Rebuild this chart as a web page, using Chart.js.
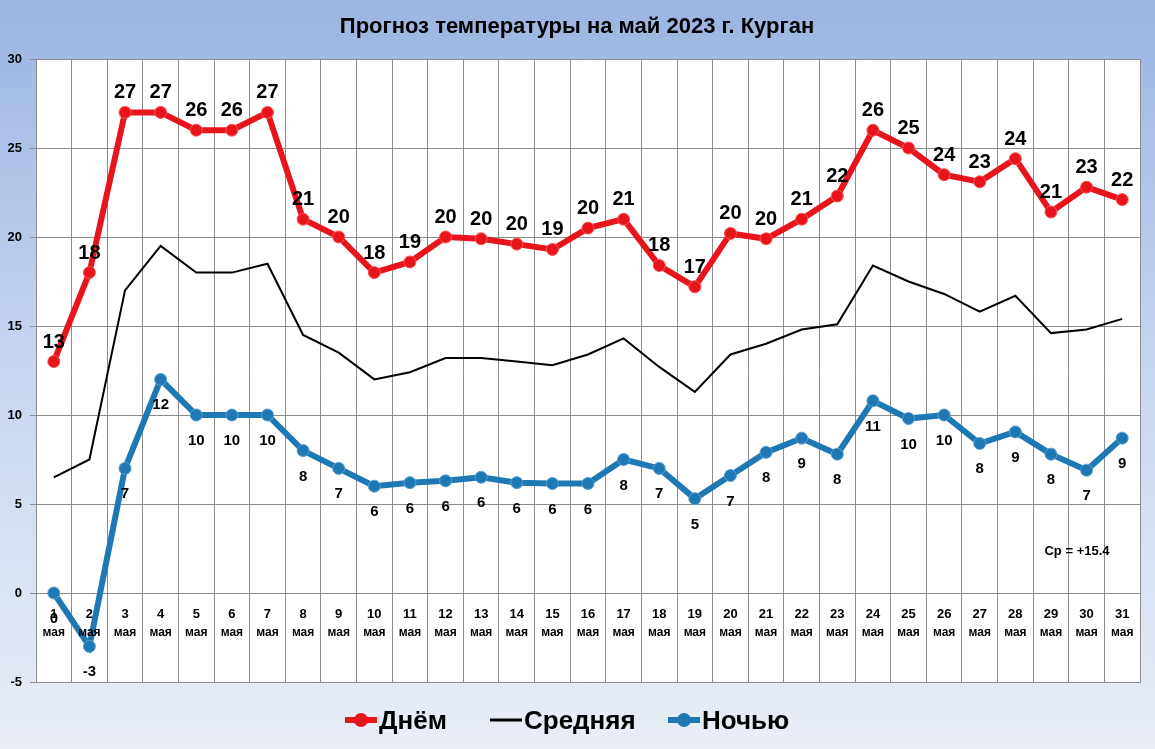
<!DOCTYPE html>
<html><head><meta charset="utf-8">
<script src="https://cdn.jsdelivr.net/npm/chart.js@4"></script>
<style>html,body{margin:0;padding:0;}body{width:1155px;height:749px;background:linear-gradient(#9bb5e1 0%,#c4d3ee 45%,#e9eef7 100%);}</style>
</head><body><canvas id="c" width="1155" height="749"></canvas>
<script>
const days = Array.from({length:31},(_,i)=>String(i+1));
const dayTemps = [13,18,27,27,26,26,27,21,20,18,18.6,20,19.9,19.6,19.3,20.5,21,18.4,17.2,20.2,19.9,21,22.3,26,25,23.5,23.1,24.4,21.4,22.8,22.1];
const dayLabels = [13,18,27,27,26,26,27,21,20,18,19,20,20,20,19,20,21,18,17,20,20,21,22,26,25,24,23,24,21,23,22];
const nightTemps = [0,-3,7,12,10,10,10,8,7,6,6.2,6.3,6.5,6.2,6.15,6.15,7.5,7,5.3,6.6,7.9,8.7,7.8,10.8,9.8,10,8.4,9.05,7.8,6.9,8.7];
const nightLabels = [0,-3,7,12,10,10,10,8,7,6,6,6,6,6,6,6,8,7,5,7,8,9,8,11,10,10,8,9,8,7,9];
const meanTemps = [6.5,7.5,17,19.5,18,18,18.5,14.5,13.5,12,12.4,13.2,13.2,13,12.8,13.4,14.3,12.7,11.3,13.4,14,14.8,15.1,18.4,17.5,16.8,15.8,16.7,14.6,14.8,15.4];
const title = 'Прогноз температуры на май 2023 г. Курган';
const note = 'Ср = +15.4';

const deco = {
  id:'deco',
  beforeDraw(ch){
    const {ctx,chartArea:a}=ch;
    ctx.save();ctx.fillStyle='#fff';ctx.fillRect(a.left,a.top,a.right-a.left,a.bottom-a.top);ctx.restore();
  },
  afterDatasetsDraw(ch){
    const {ctx,scales:{x,y}}=ch;
    ctx.save();
    ctx.textAlign='center';ctx.fillStyle='#000';
    ctx.font='bold 22px "Liberation Sans", Arial';
    ctx.fillText(title,577,33);
    // x labels
    const y0=y.getPixelForValue(0);
    days.forEach((d,i)=>{
      const px=x.getPixelForValue(i);
      ctx.font='bold 13px "Liberation Sans", Arial';
      ctx.fillText(d,px,y0+25);
      ctx.font='bold 12px "Liberation Sans", Arial';
      ctx.fillText('мая',px,y0+43);
    });
    // day labels
    ctx.font='bold 20px "Liberation Sans", Arial';
    dayTemps.forEach((v,i)=>{
      ctx.fillText(String(dayLabels[i]),x.getPixelForValue(i),y.getPixelForValue(v)-14);
    });
    ctx.font='bold 15px "Liberation Sans", Arial';
    nightTemps.forEach((v,i)=>{
      ctx.fillText(String(nightLabels[i]),x.getPixelForValue(i),y.getPixelForValue(v)+30);
    });
    ctx.font='bold 13px "Liberation Sans", Arial';
    ctx.fillText(note,1077,555);
    // legend
    ctx.font='bold 26px "Liberation Sans", Arial';
    ctx.textAlign='left';
    const items=[[345,'#e8141b','Днём',true],[490,'#000','Средняя',false],[668,'#1d78b4','Ночью',true]];
    items.forEach(([lx,c,t,pt])=>{
      ctx.strokeStyle=c;ctx.lineWidth=pt?6:3;ctx.beginPath();ctx.moveTo(lx,720);ctx.lineTo(lx+32,720);ctx.stroke();
      if(pt){ctx.fillStyle=c;ctx.beginPath();ctx.arc(lx+16,720,7,0,Math.PI*2);ctx.fill();}
      ctx.fillStyle='#000';ctx.fillText(t,lx+34,729);
    });
    ctx.restore();
  }
};

new Chart(document.getElementById('c'),{
  type:'line',
  data:{labels:days,datasets:[
    {data:meanTemps,borderColor:'#000',borderWidth:2,pointRadius:0,tension:0},
    {data:nightTemps,borderColor:'#1d78b4',backgroundColor:'#1d78b4',borderWidth:6,pointRadius:6,pointBorderColor:'#5a9fd0',pointBorderWidth:1,tension:0},
    {data:dayTemps,borderColor:'#e8141b',backgroundColor:'#e8141b',borderWidth:6,pointRadius:6,pointBorderColor:'#ff5555',pointBorderWidth:1,tension:0}
  ]},
  options:{
    responsive:false,animation:false,
    layout:{padding:{top:59,bottom:67,right:15,left:0}},
    plugins:{legend:{display:false},tooltip:{enabled:false}},
    scales:{
      x:{offset:true,grid:{offset:true,color:'#8c8c8c',lineWidth:1,drawTicks:false},ticks:{display:false},border:{color:'#8c8c8c'},afterFit(s){s.height=0;}},
      y:{min:-5,max:30,ticks:{stepSize:5,color:'#000',font:{weight:'bold',size:13,family:'"Liberation Sans", Arial'},padding:8},
         grid:{color:'#8c8c8c',tickLength:6},border:{color:'#8c8c8c'},afterFit(s){s.width=36;}}
    }
  },
  plugins:[deco]
});
</script></body></html>
